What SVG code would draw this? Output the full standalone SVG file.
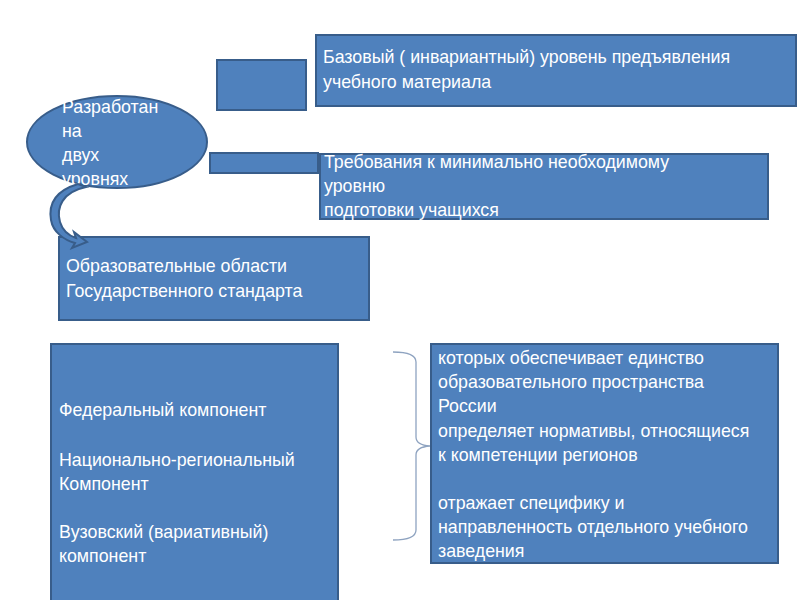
<svg xmlns="http://www.w3.org/2000/svg" width="800" height="600" viewBox="0 0 800 600">
<style>
.b{fill:#4F81BD;stroke:#385D8A;stroke-width:2}
.t{fill:#fff;font-family:"Liberation Sans",Arial,sans-serif;font-size:17.8px}
</style>
<rect width="800" height="600" fill="#fff"/>
<g id="n1"><rect class="b" x="217" y="60" width="89" height="50"/></g>
<g id="n2"><rect class="b" x="316" y="35" width="480" height="71"/>
<text class="t" x="323" y="63">Базовый ( инвариантный) уровень предъявления</text>
<text class="t" x="323" y="88">учебного материала</text></g>
<g id="n3"><ellipse class="b" cx="117" cy="142" rx="90" ry="46"/>
<text class="t" x="62" y="113">Разработан</text>
<text class="t" x="62" y="137">на</text>
<text class="t" x="62" y="161">двух</text>
<text class="t" x="62" y="185">уровнях</text></g>
<g id="n4"><rect class="b" x="210" y="153" width="108" height="20"/></g>
<g id="n5"><rect class="b" x="320" y="154" width="448" height="65"/>
<text class="t" x="324" y="168">Требования к минимально необходимому</text>
<text class="t" x="324" y="192">уровню</text>
<text class="t" x="324" y="216">подготовки учащихся</text></g>
<g id="n6"><rect class="b" x="59" y="237" width="310" height="83"/>
<text class="t" x="66" y="272">Образовательные области</text>
<text class="t" x="66" y="297">Государственного стандарта</text></g>
<g id="n7"><rect class="b" x="51" y="344" width="287" height="260"/>
<text class="t" x="59" y="416">Федеральный компонент</text>
<text class="t" x="59" y="466">Национально-региональный</text>
<text class="t" x="59" y="490">Компонент</text>
<text class="t" x="59" y="538">Вузовский (вариативный)</text>
<text class="t" x="59" y="562">компонент</text></g>
<g id="n8"><rect class="b" x="431" y="344" width="347" height="219"/>
<text class="t" x="438" y="364">которых обеспечивает единство</text>
<text class="t" x="438" y="388">образовательного пространства</text>
<text class="t" x="438" y="412">России</text>
<text class="t" x="438" y="437">определяет нормативы, относящиеся</text>
<text class="t" x="438" y="461">к компетенции регионов</text>
<text class="t" x="438" y="509">отражает специфику и</text>
<text class="t" x="438" y="533">направленность отдельного учебного</text>
<text class="t" x="438" y="557">заведения</text></g>
<g id="connectors">
<path d="M393,352 Q416,352 416,362 L416,437 Q416,445 430,446 Q416,447 416,455 L416,530 Q416,540 393,540" fill="none" stroke="#8EA3C0" stroke-width="1.3"/>
<path d="M86,187 C62,192 56,208 60,222 C63,232 70,236 76,238 L74,232 L87,242 L72,248 L75,243 C64,240 53,232 51,220 C48,202 58,190 78,184 Z" class="b" stroke-width="1.5"/>
</g>
</svg>
